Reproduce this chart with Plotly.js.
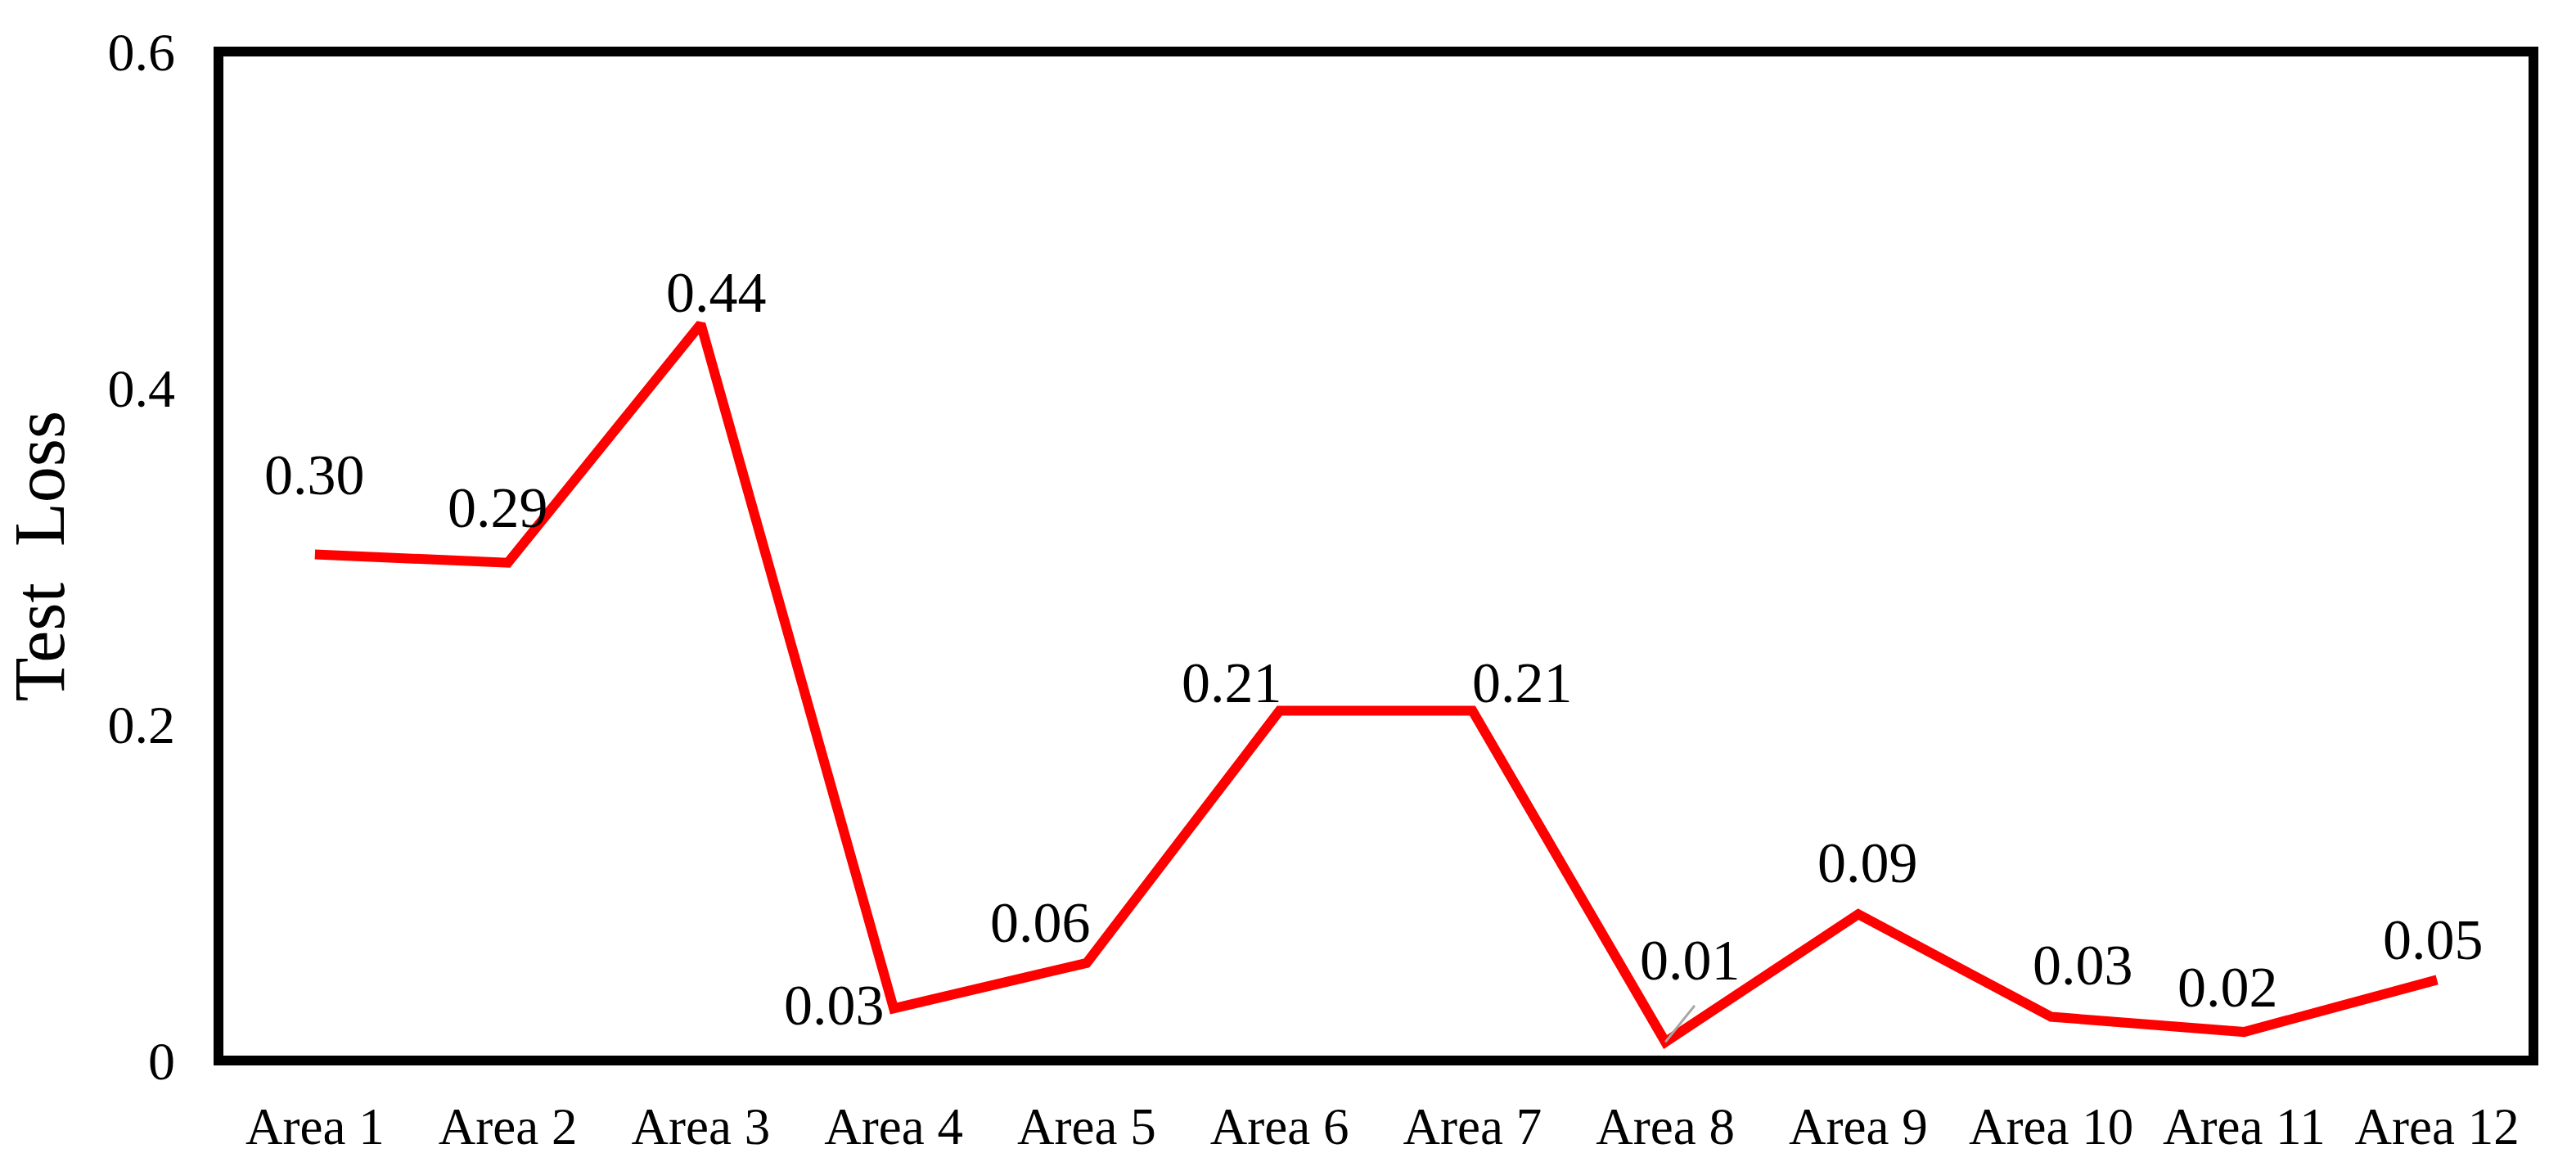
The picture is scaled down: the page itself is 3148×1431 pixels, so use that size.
<!DOCTYPE html>
<html>
<head>
<meta charset="utf-8">
<script src="https://cdn.plot.ly/plotly-3.0.1.min.js"></script>
<style>html,body{margin:0;padding:0;background:#fff;}#chart{width:3148px;height:1431px;}</style>
</head>
<body>
<div id="chart"></div>
<script>
// ---- data ----
const categories = ['Area 1','Area 2','Area 3','Area 4','Area 5','Area 6','Area 7','Area 8','Area 9','Area 10','Area 11','Area 12'];
const testLoss = [0.301, 0.296, 0.438, 0.031, 0.058, 0.208, 0.208, 0.011, 0.087, 0.026, 0.017, 0.048];
const valueLabels = ['0.30','0.29','0.44','0.03','0.06','0.21','0.21','0.01','0.09','0.03','0.02','0.05'];
const yTickVals = [0, 0.2, 0.4, 0.6];
const yTickText = ['0','0.2','0.4','0.6'];
const yTitle = 'Test\u00a0\u00a0Loss';

// ---- label placement (pixel shifts, styling only) ----
const labelDX = [0, -12, 19, -73, -56, -58, 61, 30, 12, 39, -20, -5];
const labelDY = [97, 67, 38, 4, 49, 34, 34, 100, 63, 63, 55, 49];

const FONT = "'Liberation Serif', 'Times New Roman', serif";

const trace = {
  x: categories,
  y: testLoss,
  type: 'scatter',
  mode: 'lines',
  line: {color: '#FF0000', width: 12},
  hoverinfo: 'skip',
  cliponaxis: false
};

const annotations = categories.map((c, i) => ({
  x: c, y: testLoss[i], xref: 'x', yref: 'y',
  text: valueLabels[i], showarrow: false,
  xshift: labelDX[i], yshift: labelDY[i],
  xanchor: 'center', yanchor: 'middle',
  font: {family: FONT, size: 70, color: '#000'}
}));
// grey leader line at Area 8
annotations.push({
  x: categories[7], y: testLoss[7], xref: 'x', yref: 'y',
  text: '', showarrow: true, arrowhead: 0, arrowwidth: 3,
  arrowcolor: '#a6a6a6', ax: 37, ay: -46, standoff: 0, startstandoff: 0
});

const layout = {
  width: 3148, height: 1431,
  margin: {l: 267, r: 52, t: 63, b: 135, pad: 0},
  paper_bgcolor: '#fff', plot_bgcolor: '#fff',
  showlegend: false,
  font: {family: FONT, color: '#000'},
  xaxis: {
    type: 'category',
    range: [-0.5, 11.5],
    showgrid: false, zeroline: false, showline: false,
    ticks: '',
    tickfont: {family: FONT, size: 63, color: '#000'},
    ticklabelstandoff: 38,
    fixedrange: true
  },
  yaxis: {
    range: [0, 0.6],
    tickvals: yTickVals, ticktext: yTickText,
    showgrid: false, zeroline: false, showline: false,
    ticks: '',
    tickfont: {family: FONT, size: 66, color: '#000'},
    ticklabelstandoff: 52,
    title: {text: yTitle, font: {family: FONT, size: 88, color: '#000'}, standoff: 26},
    fixedrange: true
  },
  shapes: [{
    type: 'rect', xref: 'paper', yref: 'paper', x0: 0, x1: 1, y0: 0, y1: 1,
    line: {color: '#000', width: 12}, fillcolor: 'rgba(0,0,0,0)', layer: 'above'
  }],
  annotations: annotations
};

Plotly.newPlot('chart', [trace], layout, {displayModeBar: false, staticPlot: true});
</script>
</body>
</html>
